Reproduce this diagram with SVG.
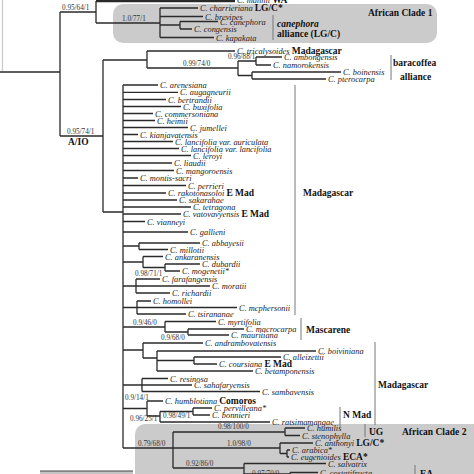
<svg xmlns="http://www.w3.org/2000/svg" width="474" height="474" viewBox="0 0 474 474">
<style>
.t{font-family:"Liberation Serif","Times New Roman",serif;font-size:8.4px;font-style:italic;fill:#222}
.b{font-family:"Liberation Serif","Times New Roman",serif;font-size:9.5px;font-weight:bold;font-style:normal;fill:#111}
.bi{font-family:"Liberation Serif","Times New Roman",serif;font-size:9.5px;font-weight:bold;font-style:italic;fill:#111}
.s{font-family:"Liberation Serif","Times New Roman",serif;font-size:7.2px;fill:#333}
.e{fill:none;stroke:#2a2a2a;stroke-width:1.3}
.sep{fill:none;stroke:#777;stroke-width:1}
.box{fill:#cbcbcb}
</style>
<rect width="474" height="474" fill="#fff"/>
<g id="boxes">
<rect class="box" x="113" y="4" width="324" height="39" rx="10"/>
<rect class="box" x="135" y="424" width="360" height="70" rx="10"/>
<rect x="40" y="471" width="93" height="8" fill="#c4c4c4"/>
<line x1="40" y1="471" x2="133" y2="471" stroke="#444" stroke-width="1"/>
</g>
<g id="connectors">
<line x1="2.5" y1="0" x2="2.5" y2="71" stroke="#c8c8c8" stroke-width="1.2"/>
<path d="M96,1H235" stroke="#2a2a2a" stroke-width="2.6" fill="none"/>
<path class="e" d="M0,72H60M60,12V136M60,12H96M96,1V23M96,23H160
M160,8V37.5M160,8H198M160,16.5H203M160,25H180M160,37.5H214
M180,21.5V29M180,21.5H218M180,29H192
M60,136H103M103,60V212M103,60H147
M147,51V68M147,51H235M147,68H238
M238,61V75.5M238,61H256M238,75.5H252
M256,57V65M256,57H282M256,65H271
M252,72V79M252,72H341M252,79H326
M103,212H123M123,85V448
M123,85H158M123,92.3H178M123,99.5H166M123,106.5H181M123,113.5H153M123,120.5H155M123,127.5H188
M123,134.5H138M123,141.5H173M123,148.5H179M123,155.5H191M123,163H172M123,170.5H174M123,178H138
M123,185.5H186M123,193H166M123,200H177M123,207H191M123,214H181M123,221.5H145M123,232H188
M123,246H139M139,243V249.5M139,243H200M139,249.5H168
M123,262H143M143,256.5V267.5M143,256.5H163M143,267.5H165M165,264V271M165,264H200M165,271H180
M123,286H136M136,279V293M136,279H160M136,286H210M136,293H170
M123,307.5H137M137,301V314M137,301H151M137,307.5H237M137,314H186
M123,327H165M165,321.5V332M165,321.5H216M165,332H188M188,329V335M188,329H244M188,335H229
M123,350H143M143,343V358M143,343H203M143,358H157
M157,351V371M157,351H316M157,360.5H194M157,371H253
M194,357V364M194,357H281M194,364H217
M123,385H142M142,378.5V391.5M142,378.5H168M142,385H192M142,391.5H260
M123,408.5H147M147,401V416M147,401H163M147,416H160
M160,411.5V422M160,411.5H193M160,422H270M193,408V415M193,408H212M193,415H210
M123,448H173M173,432V468
M173,432H285M285,428V435.5M285,428H305M285,435.5H300
M173,448H280M280,443V453.5M280,443H313M280,453.5H287M287,450V457M287,450H290M287,457H289
M173,468H244M244,463.5V480M244,463.5H326M244,474H290M290,472.5V480M290,472.5H318"/>
</g>
<g id="separators">
<path class="sep" d="M273,15V40M391,55V80M295,85V315M301,318V340M375,342V425M340,407V427M365,424V437M415,465V480"/>
</g>
<g id="support">
<text class="s" x="62" y="10">0.95/64/1</text>
<text class="s" x="122" y="21">1.0/77/1</text>
<text class="s" x="183" y="65.5">0.99/74/0</text>
<text class="s" x="228" y="59">0.96/88/1</text>
<text class="s" x="67" y="133.5">0.95/74/1</text>
<text class="s" x="135" y="276">0.98/71/1</text>
<text class="s" x="133" y="324.5">0.9/46/0</text>
<text class="s" x="161" y="339.5">0.9/68/0</text>
<text class="s" x="125" y="399.5">0.9/14/1</text>
<text class="s" x="130" y="421">0.96/25/1</text>
<text class="s" x="163" y="418">0.98/49/1</text>
<text class="s" x="138" y="446">0.79/68/0</text>
<text class="s" x="218" y="428.5">0.98/100/0</text>
<text class="s" x="227" y="445.5">1.0/98/0</text>
<text class="s" x="186" y="465.5">0.92/86/0</text>
<text class="s" x="252" y="475.5">0.97/70/0</text>
</g>
<g id="groups">
<text class="b" x="68" y="145">A/IO</text>
<text class="b" x="368" y="15.5">African Clade 1</text>
<text class="bi" x="277" y="26.5">canephora</text>
<text class="b" x="277" y="37">alliance (LG/C)</text>
<text class="b" x="393" y="66">baracoffea</text>
<text class="b" x="400" y="79.5">alliance</text>
<text class="b" x="303" y="196">Madagascar</text>
<text class="b" x="306" y="333">Mascarene</text>
<text class="b" x="378" y="388">Madagascar</text>
<text class="b" x="343" y="418">N Mad</text>
<text class="b" x="369" y="435">UG</text>
<text class="b" x="402" y="435">African Clade 2</text>
<text class="b" x="420" y="477">EA</text>
</g>
<g id="tips">
<g id="mannii"><text class="t" x="237" y="3">C. mannii <tspan class="b">WA</tspan></text></g>
<g id="charrieriana"><text class="t" x="200" y="11">C. charrieriana <tspan class="b">LG/C*</tspan></text></g>
<g id="brevipes"><text class="t" x="205" y="19.5">C. brevipes</text></g>
<g id="canephora"><text class="t" x="220" y="24.5">C. canephora</text></g>
<g id="congensis"><text class="t" x="194" y="32">C. congensis</text></g>
<g id="kapakata"><text class="t" x="216" y="40.5">C. kapakata</text></g>
<g id="tricalysoides"><text class="t" x="237" y="54">C. tricalysoides <tspan class="b">Madagascar</tspan></text></g>
<g id="ambongensis"><text class="t" x="284" y="60">C. ambongensis</text></g>
<g id="namorokensis"><text class="t" x="273" y="68">C. namorokensis</text></g>
<g id="boinensis"><text class="t" x="343" y="75">C. boinensis</text></g>
<g id="pterocarpa"><text class="t" x="328" y="82">C. pterocarpa</text></g>
<g id="arenesiana"><text class="t" x="160" y="88">C. arenesiana</text></g>
<g id="augagneurii"><text class="t" x="180" y="95.3">C. augagneurii</text></g>
<g id="bertrandii"><text class="t" x="168" y="102.5">C. bertrandii</text></g>
<g id="buxifolia"><text class="t" x="183" y="109.5">C. buxifolia</text></g>
<g id="commersoniana"><text class="t" x="155" y="116.5">C. commersoniana</text></g>
<g id="heimii"><text class="t" x="157" y="123.5">C. heimii</text></g>
<g id="jumellei"><text class="t" x="190" y="130.5">C. jumellei</text></g>
<g id="kianjavatensis"><text class="t" x="140" y="137.5">C. kianjavatensis</text></g>
<g id="lancifolia-auriculata"><text class="t" x="175" y="144.5">C. lancifolia var. auriculata</text></g>
<g id="lancifolia-lancifolia"><text class="t" x="181" y="151.5">C. lancifolia var. lancifolia</text></g>
<g id="leroyi"><text class="t" x="193" y="158.5">C. leroyi</text></g>
<g id="liaudii"><text class="t" x="174" y="166">C. liaudii</text></g>
<g id="mangoroensis"><text class="t" x="176" y="173.5">C. mangoroensis</text></g>
<g id="montis-sacri"><text class="t" x="140" y="181">C. montis-sacri</text></g>
<g id="perrieri"><text class="t" x="188" y="188.5">C. perrieri</text></g>
<g id="rakotonasoloi"><text class="t" x="168" y="196">C. rakotonasoloi <tspan class="b">E Mad</tspan></text></g>
<g id="sakarahae"><text class="t" x="179" y="203">C. sakarahae</text></g>
<g id="tetragona"><text class="t" x="193" y="210">C. tetragona</text></g>
<g id="vatovavyensis"><text class="t" x="183" y="217">C. vatovavyensis <tspan class="b">E Mad</tspan></text></g>
<g id="vianneyi"><text class="t" x="147" y="224.5">C. vianneyi</text></g>
<g id="gallieni"><text class="t" x="190" y="235">C. gallieni</text></g>
<g id="abbayesii"><text class="t" x="202" y="246">C. abbayesii</text></g>
<g id="millotii"><text class="t" x="170" y="252.5">C. millotii</text></g>
<g id="ankaranensis"><text class="t" x="165" y="259.5">C. ankaranensis</text></g>
<g id="dubardii"><text class="t" x="202" y="267">C. dubardii</text></g>
<g id="mogenetii"><text class="t" x="182" y="274">C. mogenetii*</text></g>
<g id="farafangensis"><text class="t" x="162" y="282">C. farafangensis</text></g>
<g id="moratii"><text class="t" x="212" y="289">C. moratii</text></g>
<g id="richardii"><text class="t" x="172" y="296">C. richardii</text></g>
<g id="homollei"><text class="t" x="153" y="304">C. homollei</text></g>
<g id="mcphersonii"><text class="t" x="239" y="310.5">C. mcphersonii</text></g>
<g id="tsirananae"><text class="t" x="188" y="317">C. tsirananae</text></g>
<g id="myrtifolia"><text class="t" x="218" y="324.5">C. myrtifolia</text></g>
<g id="macrocarpa"><text class="t" x="246" y="332">C. macrocarpa</text></g>
<g id="mauritiana"><text class="t" x="231" y="338">C. mauritiana</text></g>
<g id="andrambovatensis"><text class="t" x="205" y="346">C. andrambovatensis</text></g>
<g id="boiviniana"><text class="t" x="318" y="354">C. boiviniana</text></g>
<g id="alleizettii"><text class="t" x="283" y="360">C. alleizettii</text></g>
<g id="coursiana"><text class="t" x="219" y="367">C. coursiana <tspan class="b">E Mad</tspan></text></g>
<g id="betamponensis"><text class="t" x="255" y="374">C. betamponensis</text></g>
<g id="resinosa"><text class="t" x="170" y="381.5">C. resinosa</text></g>
<g id="sahafaryensis"><text class="t" x="194" y="388">C. sahafaryensis</text></g>
<g id="sambavensis"><text class="t" x="262" y="394.5">C. sambavensis</text></g>
<g id="humblotiana"><text class="t" x="165" y="404">C. humblotiana <tspan class="b">Comoros</tspan></text></g>
<g id="pervilleana"><text class="t" x="214" y="411">C. pervilleana*</text></g>
<g id="bonnieri"><text class="t" x="212" y="418">C. bonnieri</text></g>
<g id="ratsimamangae"><text class="t" x="272" y="425">C. ratsimamangae</text></g>
<g id="humilis"><text class="t" x="307" y="431">C. humilis</text></g>
<g id="stenophylla"><text class="t" x="302" y="438.5">C. stenophylla</text></g>
<g id="anthonyi"><text class="t" x="315" y="446">C. anthonyi <tspan class="b">LG/C*</tspan></text></g>
<g id="arabica"><text class="t" x="292" y="453">C. arabica*</text></g>
<g id="eugenioides"><text class="t" x="291" y="460">C. eugenioides <tspan class="b">ECA*</tspan></text></g>
<g id="salvatrix"><text class="t" x="328" y="466.5">C. salvatrix</text></g>
<g id="costatifructa"><text class="t" x="320" y="475.5">C. costatifructa</text></g>
</g>
</svg>
